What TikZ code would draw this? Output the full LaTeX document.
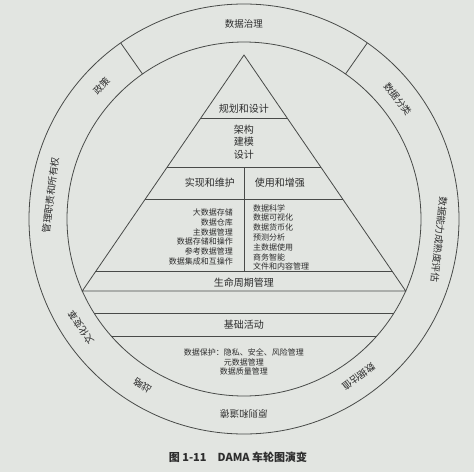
\documentclass[tikz,border=0pt]{standalone}
\usepackage{fontspec}
\setmainfont{Noto Sans CJK SC}
\usetikzlibrary{calc}
\definecolor{paper}{RGB}{226,229,225}
\definecolor{ink}{RGB}{72,74,72}
\definecolor{txt}{RGB}{45,45,45}
\tikzstyle{wheelline} = [draw=ink, line width=0.8pt]
\tikzstyle{ringlabel} = [text=txt, font=\fontsize{9.5}{11}\selectfont, inner sep=1pt]
\tikzstyle{layer} = [text=txt, font=\fontsize{10}{13}\selectfont, align=center, inner sep=1pt]
\tikzstyle{areas} = [text=txt, font=\fontsize{8}{9.8}\selectfont, inner sep=1pt]

\begin{document}
\begin{tikzpicture}[x=1pt,y=1pt]

\fill[paper] (-244,-253) rectangle (230,219);
\useasboundingbox (-244,-253) rectangle (230,219);

% wheel
\draw[wheelline] (0,0) circle (215);
\draw[wheelline] (0,0) circle (177);
\draw[wheelline] (55:177) -- (55:215);
\draw[wheelline] (125:177) -- (125:215);

% pyramid
\coordinate (apex) at (0,164);
\coordinate (baseL) at (204:177);
\coordinate (baseR) at (-24:177);
\draw[wheelline] (apex) -- (baseL) -- (baseR) -- cycle;
\foreach \t in {0.267,0.475,0.610,0.919}
  \draw[wheelline] ($(apex)!\t!(baseL)$) -- ($(apex)!\t!(baseR)$);
\draw[wheelline] (0,52) -- (0,-53);
\draw[wheelline] (212.07:177) -- (-32.07:177);
\draw[wheelline] (221.38:177) -- (-41.38:177);

% pyramid texts
\node [layer] (plan) at (0,110) {规划和设计};
\node [layer, font=\fontsize{10}{12.5}\selectfont] (arch) at (0,77) {架构\\建模\\设计};
\node [layer] (build) at (-34,36) {实现和维护};
\node [layer] (use) at (36,36) {使用和增强};
\node [areas, anchor=east, align=right] (store) at (-10,-18)
  {大数据存储\\数据仓库\\主数据管理\\数据存储和操作\\参考数据管理\\数据集成和互操作};
\node [areas, anchor=west, align=left] (value) at (8,-18.5)
  {数据科学\\数据可视化\\数据货币化\\预测分析\\主数据使用\\商务智能\\文件和内容管理};
\node [layer] (life) at (0,-64) {生命周期管理};
\node [layer] (found) at (0,-106) {基础活动};
\node [areas, align=center, font=\fontsize{8}{9.2}\selectfont] (protect) at (0,-143)
  {数据保护：隐私、安全、风险管理\\元数据管理\\数据质量管理};

% ring texts
\node [ringlabel] (gov) at (90:195) {数据治理};
\node [ringlabel, rotate=47] (policy) at (137:195) {政策};
\node [ringlabel, rotate=-52] (classify) at (38:195) {数据分类};
\node [ringlabel, rotate=-96] (maturity) at (-6:196) {数据能力成熟度评估};
\node [ringlabel, rotate=83] (steward) at (173:195) {管理职责和所有权};
\node [ringlabel, rotate=123.6] (culture) at (213.6:196) {文化变革};
\node [ringlabel, rotate=148.6] (strategy) at (238.6:195) {战略};
\node [ringlabel, rotate=180] (ethics) at (270:195) {原则和道德};
\node [ringlabel, rotate=216] (valuation) at (306:195) {数据估值};

% caption
\node [text=txt, font=\bfseries\fontsize{11}{13}\selectfont] (caption) at (-6,-238)
  {图 1-11\quad DAMA 车轮图演变};

\end{tikzpicture}
\end{document}
